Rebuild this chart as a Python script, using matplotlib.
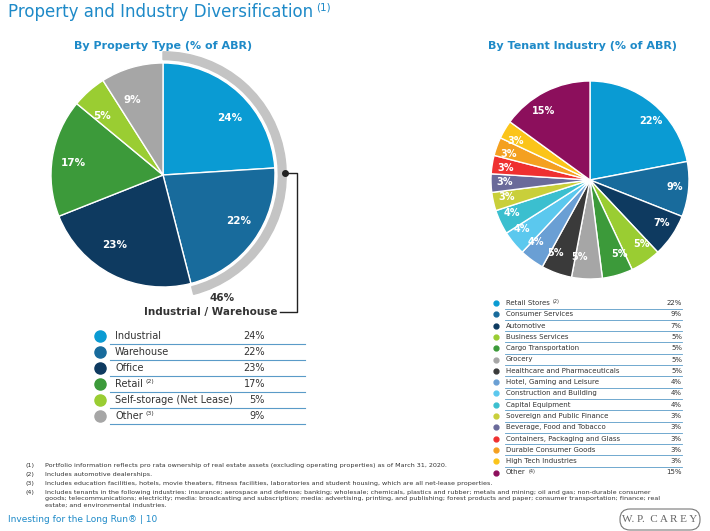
import matplotlib
matplotlib.use("Agg")
import matplotlib.pyplot as plt
from matplotlib.patches import Wedge, FancyBboxPatch

W, H = 710, 531
prop_labels = ["Industrial", "Warehouse", "Office", "Retail", "Self-storage (Net Lease)", "Other"]
prop_sup = ["", "", "", "(2)", "", "(3)"]
prop_vals = [24, 22, 23, 17, 5, 9]
prop_colors = ["#0a9bd3", "#186b9c", "#0e3a60", "#3c9a3a", "#9acd32", "#a6a6a6"]

ind_labels = ["Retail Stores", "Consumer Services", "Automotive", "Business Services",
              "Cargo Transportation", "Grocery", "Healthcare and Pharmaceuticals",
              "Hotel, Gaming and Leisure", "Construction and Building", "Capital Equipment",
              "Sovereign and Public Finance", "Beverage, Food and Tobacco",
              "Containers, Packaging and Glass", "Durable Consumer Goods",
              "High Tech Industries", "Other"]
ind_sup = ["(2)"] + [""] * 14 + ["(4)"]
ind_vals = [22, 9, 7, 5, 5, 5, 5, 4, 4, 4, 3, 3, 3, 3, 3, 15]
ind_colors = ["#0a9bd3", "#186b9c", "#0e3a60", "#9acd32", "#3c9a3a", "#a6a6a6", "#3a3a3a",
              "#6a9fd4", "#5bc8ee", "#3bbfcf", "#c9cf3a", "#6a6a9a", "#ef3030", "#f4a020",
              "#fbc41a", "#8c0f5c"]

fig = plt.figure(figsize=(W/100, H/100), dpi=100)
blue = "#1e8ac8"
def fx(x): return x / W
def fy(y): return 1 - y / H

def pie_axes(cx, cy, r):
    return fig.add_axes([fx(cx - r), fy(cy + r), 2*r/W, 2*r/H])

ax1 = pie_axes(163, 175, 112)
ax1.add_patch(Wedge((0, 0), 1.10, 90 - 0.46*360, 90, width=0.07, color="#c4c4c4", clip_on=False))
ax1.pie(prop_vals, colors=prop_colors, startangle=90, counterclock=False,
        labels=[f"{v}%" for v in prop_vals], labeldistance=0.7,
        textprops=dict(color="white", fontsize=7.5, fontweight="bold"),
        wedgeprops=dict(edgecolor="white", linewidth=1))
ax1.set_xlim(-1, 1); ax1.set_ylim(-1, 1); ax1.set_aspect("equal"); ax1.axis("off")

ax2 = pie_axes(590, 180, 99)
ax2.pie(ind_vals, colors=ind_colors, startangle=90, counterclock=False,
        labels=[f"{v}%" for v in ind_vals], labeldistance=0.78,
        textprops=dict(color="white", fontsize=7, fontweight="bold"),
        wedgeprops=dict(edgecolor="white", linewidth=1))
ax2.set_xlim(-1, 1); ax2.set_ylim(-1, 1); ax2.set_aspect("equal"); ax2.axis("off")

top = fig.add_axes([0, 0, 1, 1], zorder=5)
top.set_xlim(0, W); top.set_ylim(H, 0); top.axis("off")
renderer = fig.canvas.get_renderer()

def sup_after(t, s, size, dy):
    bb = t.get_window_extent(renderer=renderer)
    top.text(bb.x1 + 3, t.get_position()[1] - dy, s, fontsize=size, color=t.get_color(), va="center")

tt = top.text(8, 12, "Property and Industry Diversification", color=blue, fontsize=12, va="center")
sup_after(tt, "(1)", 7.5, 4)
top.text(163, 46, "By Property Type (% of ABR)", color=blue, fontsize=8, fontweight="bold", ha="center", va="center")
top.text(583, 46, "By Tenant Industry (% of ABR)", color=blue, fontsize=8, fontweight="bold", ha="center", va="center")

top.plot([285, 297, 297, 280], [173, 173, 312, 312], color="#222", lw=1)
top.plot([285], [173], "o", color="#222", ms=4)
top.text(222, 298, "46%", fontsize=7.5, fontweight="bold", color="#333", ha="center", va="center")
top.text(278, 312, "Industrial / Warehouse", fontsize=7.5, fontweight="bold", color="#333", ha="right", va="center")

for i, (lab, sup, v, c) in enumerate(zip(prop_labels, prop_sup, prop_vals, prop_colors)):
    y = 336 + i*16
    top.plot([100], [y], "o", color=c, ms=8)
    t = top.text(115, y, lab, fontsize=7, color="#333", va="center")
    if sup:
        sup_after(t, sup, 4.5, 2)
    top.text(265, y, f"{v}%", fontsize=7, color="#333", va="center", ha="right")
    top.plot([110, 305], [y + 8, y + 8], color="#5a9bc8", lw=0.8)

for i, (lab, sup, v, c) in enumerate(zip(ind_labels, ind_sup, ind_vals, ind_colors)):
    y = 303 + i*11.3
    top.plot([496], [y], "o", color=c, ms=3.5)
    t = top.text(506, y, lab, fontsize=5, color="#333", va="center")
    if sup:
        sup_after(t, sup, 3.5, 1.5)
    top.text(682, y, f"{v}%", fontsize=5, color="#333", va="center", ha="right")
    if i < len(ind_labels) - 1:
        top.plot([505, 682], [y + 5.5, y + 5.5], color="#5a9bc8", lw=0.6)

notes = [
    ("(1)", "Portfolio information reflects pro rata ownership of real estate assets (excluding operating properties) as of March 31, 2020."),
    ("(2)", "Includes automotive dealerships."),
    ("(3)", "Includes education facilities, hotels, movie theaters, fitness facilities, laboratories and student housing, which are all net-lease properties."),
    ("(4)", "Includes tenants in the following industries: insurance; aerospace and defense; banking; wholesale; chemicals, plastics and rubber; metals and mining; oil and gas; non-durable consumer\n"
            "goods; telecommunications; electricity; media: broadcasting and subscription; media: advertising, printing, and publishing; forest products and paper; consumer transportation; finance; real\n"
            "estate; and environmental industries."),
]
ys = [463, 472, 481, 490]
for (n, t), y in zip(notes, ys):
    top.text(26, y, n, fontsize=4.6, color="#333", va="top")
    top.text(45, y, t, fontsize=4.6, color="#333", va="top", linespacing=1.35)

top.text(8, 520, "Investing for the Long Run® | 10", color=blue, fontsize=6.5, va="center")
top.add_patch(FancyBboxPatch((620, 509), 80, 21, boxstyle="round,pad=0,rounding_size=10",
                             fill=False, ec="#777", lw=0.8))
top.text(660, 520, "W. P.  C A R E Y", fontsize=8, color="#666", ha="center", va="center", family="Liberation Serif")

fig.savefig("out.png", dpi=100)
